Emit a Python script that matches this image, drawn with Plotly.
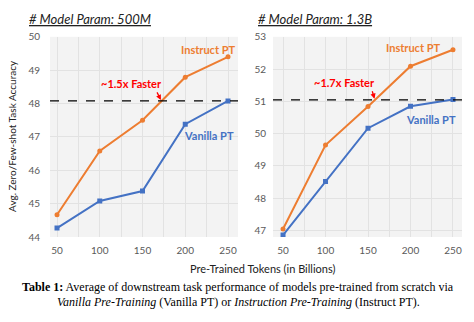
import plotly.graph_objects as go

tokens = [50, 100, 150, 200, 250]
instruct_500m = [44.67, 46.58, 47.5, 48.79, 49.4]
vanilla_500m = [44.27, 45.08, 45.38, 47.38, 48.08]
instruct_13b = [47.05, 49.65, 50.84, 52.09, 52.6]
vanilla_13b = [46.86, 48.52, 50.17, 50.85, 51.06]
thresh_500m = 48.08
thresh_13b = 51.05
cross_500m = 172
cross_13b = 158

ORANGE = "#ED7D31"
BLUE = "#4472C4"
RED = "#FF0000"
FONT = "Lato"

fig = go.Figure()

def add_series(x, y, color, symbol, xa, ya):
    fig.add_trace(go.Scatter(x=x, y=y, mode="lines+markers", xaxis=xa, yaxis=ya,
                             line=dict(color=color, width=2),
                             marker=dict(color=color, size=5, symbol=symbol),
                             showlegend=False, hoverinfo="skip"))

add_series(tokens, instruct_500m, ORANGE, "circle", "x", "y")
add_series(tokens, vanilla_500m, BLUE, "square", "x", "y")
add_series(tokens, instruct_13b, ORANGE, "circle", "x2", "y2")
add_series(tokens, vanilla_13b, BLUE, "square", "x2", "y2")

fig.add_shape(type="line", xref="x domain", yref="y", x0=0, x1=1, y0=thresh_500m, y1=thresh_500m,
              line=dict(color="black", width=1.3, dash="dash"))
fig.add_shape(type="line", xref="x2 domain", yref="y2", x0=0, x1=1, y0=thresh_13b, y1=thresh_13b,
              line=dict(color="black", width=1.3, dash="dash"))

yd = [1 - 240 / 322, 1 - 32 / 322]
axis_common = dict(showline=False, zeroline=False, gridcolor="#e2e2e2", gridwidth=1,
                   tickfont=dict(family=FONT, size=10, color="#595959"), ticks="")
fig.update_layout(
    width=474, height=322, margin=dict(l=0, r=0, t=0, b=0),
    paper_bgcolor="white", plot_bgcolor="#f3f3f3",
    xaxis=dict(domain=[50 / 474, 238 / 474], range=[41.8, 261.7], tickvals=tokens,
               minor=dict(dtick=25, tick0=0, showgrid=True, gridcolor="#e2e2e2"),
               ticklabelstandoff=6, anchor="y", **axis_common),
    yaxis=dict(domain=yd, range=[44, 50], dtick=1, anchor="x", ticklabelstandoff=9, **axis_common),
    xaxis2=dict(domain=[273 / 474, 462 / 474], range=[38.2, 260.6], tickvals=tokens,
                minor=dict(dtick=25, tick0=0, showgrid=True, gridcolor="#e2e2e2"),
                ticklabelstandoff=6, anchor="y2", **axis_common),
    yaxis2=dict(domain=yd, range=[46.8, 53], dtick=1, anchor="x2", ticklabelstandoff=6, **axis_common),
)

def ann(text, x, y, size, color, family=FONT, **kw):
    d = dict(text=text, x=x / 474, y=1 - y / 322, xref="paper", yref="paper",
             showarrow=False, font=dict(family=family, size=size, color=color),
             xanchor="center", yanchor="middle")
    d.update(kw)
    fig.add_annotation(**d)

ann("<i><u># Model Param: 500M</u></i>", 90, 13, 13, "#222222")
ann("<i><u># Model Param: 1.3B</u></i>", 315, 13, 13, "#222222")
ann("<b>Instruct PT</b>", 208, 45, 11, ORANGE)
ann("<b>Vanilla PT</b>", 209, 134, 11, BLUE)
ann("<b>Instruct PT</b>", 413, 43, 11, ORANGE)
ann("<b>Vanilla PT</b>", 431, 118, 11, BLUE)
ann("<b>~1.5x Faster</b>", 131, 81, 11, RED)
ann("<b>~1.7x Faster</b>", 344, 79, 11, RED)
ann("Avg. Zero/Few-shot Task Accuracy", 12, 135, 10, "#222222", textangle=-90)
ann("Pre-Trained Tokens (in Billions)", 262, 273, 11, "#222222")
ann("<b>Table 1:</b> Average of downstream task performance of models pre-trained from scratch via",
    238, 292, 12, "black", family="Liberation Serif")
ann("<i>Vanilla Pre-Training</i> (Vanilla PT) or <i>Instruction Pre-Training</i> (Instruct PT).",
    238, 307, 12, "black", family="Liberation Serif")

fig.add_annotation(x=cross_500m, y=thresh_500m, xref="x", yref="y", ax=-5, ay=-10,
                   text="", showarrow=True,
                   arrowhead=2, arrowsize=0.8, arrowwidth=1.3, arrowcolor=RED, standoff=1)
fig.add_annotation(x=cross_13b, y=thresh_13b, xref="x2", yref="y2", ax=-3, ay=-10,
                   text="", showarrow=True,
                   arrowhead=2, arrowsize=0.8, arrowwidth=1.3, arrowcolor=RED, standoff=1)

fig.write_html("out.html")
